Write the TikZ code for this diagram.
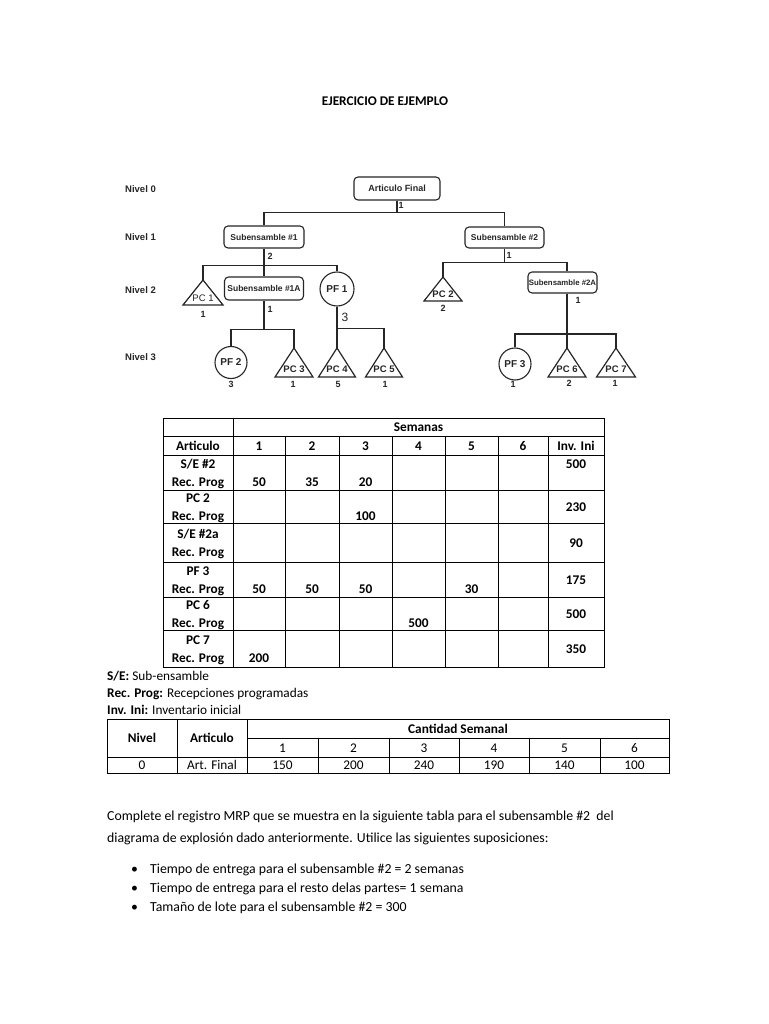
\documentclass[tikz,border=0pt]{standalone}
\usepackage{fontspec}
\setmainfont{Carlito}
\newfontfamily\treefont{Liberation Sans}
\usetikzlibrary{calc}
\newcommand\trishape[5]{% name, apex x, apex y, half width, height
  \coordinate (#1) at (#2,#3);
  \draw[treeline] (#1) -- ++(#4,#5) -- ++(-2*#4,0) -- cycle;
}
\begin{document}
\begin{tikzpicture}[x=1pt,y=-1pt,
  treeline/.style={draw=black!85, line width=1.2pt},
  rbox/.style={draw=black!85, line width=1.1pt, rounded corners=4pt, inner sep=0pt, text=black!85, font=\treefont\bfseries\fontsize{8.5}{9}\selectfont},
  pfc/.style={circle, draw=black!85, line width=1.1pt, minimum size=32pt, inner sep=0pt, text=black!85, font=\treefont\bfseries\fontsize{10}{10}\selectfont},
  tritxt/.style={inner sep=0pt, text=black!85, font=\treefont\bfseries\fontsize{9.5}{10}\selectfont},
  qty/.style={inner sep=0pt, text=black!85, font=\treefont\bfseries\fontsize{9}{9}\selectfont},
  lvl/.style={inner sep=0pt, anchor=west, text=black!85, font=\treefont\bfseries\fontsize{9.5}{10}\selectfont},
  grid/.style={draw=black, line width=0.9pt},
  cellb/.style={inner sep=0pt, anchor=base, font=\bfseries\fontsize{13.3}{16}\selectfont},
  cell/.style={inner sep=0pt, anchor=base, font=\fontsize{13.3}{16}\selectfont},
  txt/.style={inner sep=0pt, anchor=base west, font=\fontsize{13.3}{16}\selectfont},
  para/.style={inner sep=0pt, anchor=base west, font=\fontsize{13.8}{16}\selectfont},
]
\fill[white] (0,0) rectangle (768,1024);
\useasboundingbox (0,0) rectangle (768,1024);

% ---------- title ----------
\node[cellb] (title) at (385,105.5) {EJERCICIO DE EJEMPLO};

% ---------- levels ----------
\node[lvl] (n0) at (125,189) {Nivel 0};
\node[lvl] (n1) at (125,237) {Nivel 1};
\node[lvl] (n2) at (125,290) {Nivel 2};
\node[lvl] (n3) at (125,357) {Nivel 3};

% ---------- tree nodes ----------
\node[rbox, minimum width=86pt, minimum height=23pt, font=\treefont\bfseries\fontsize{9}{9}\selectfont] (af) at (397,188.5) {Articulo Final};
\node[rbox, minimum width=80pt, minimum height=22pt] (s1) at (264,237) {Subensamble \#1};
\node[rbox, minimum width=79pt, minimum height=21pt] (s2) at (504.5,237.5) {Subensamble \#2};
\node[rbox, minimum width=79pt, minimum height=23pt] (s1a) at (264,288.5) {Subensamble \#1A};
\node[rbox, minimum width=69pt, minimum height=21pt, font=\treefont\bfseries\fontsize{7.8}{8}\selectfont] (s2a) at (562.5,282.5) {Subensamble \#2A};

\node[pfc, minimum size=34pt] (pf1) at (337,289) {PF 1};
\node[pfc] (pf2) at (231,362.5) {PF 2};
\node[pfc] (pf3) at (515,364) {PF 3};

\trishape{pc1}{203}{280}{20}{25}
\node[tritxt, font=\treefont\fontsize{9.5}{10}\selectfont] (pc1t) at (203,298) {PC 1};
\trishape{pc2}{443}{277}{19}{24}
\node[tritxt] (pc2t) at (443,294) {PC 2};
\trishape{pc3}{294}{348}{19}{29}
\node[tritxt] (pc3t) at (294,369) {PC 3};
\trishape{pc4}{337}{348}{18.5}{29}
\node[tritxt] (pc4t) at (337,369) {PC 4};
\trishape{pc5}{384}{348}{18.5}{29}
\node[tritxt] (pc5t) at (384,369) {PC 5};
\trishape{pc6}{567}{348}{19}{29}
\node[tritxt] (pc6t) at (567,369) {PC 6};
\trishape{pc7}{616}{348}{19.5}{29}
\node[tritxt] (pc7t) at (616,369) {PC 7};

% ---------- connectors ----------
\coordinate (j0) at ($(af.south)+(0,12)$);
\draw[treeline] (af.south) -- (j0);
\draw[treeline] (s1.north) |- (j0) -| (s2.north);

\coordinate (j1) at ($(s1.south)+(0,17)$);
\draw[treeline] (s1.south) -- (j1) -- (s1a.north);
\draw[treeline] (pc1) |- (j1) -| (pf1.north);

\coordinate (s2aT) at ($(s2a.north)+(4.5,0)$);
\coordinate (s2aB) at ($(s2a.south)+(4.5,0)$);
\coordinate (j2) at ($(s2.south)+(0,14)$);
\draw[treeline] (s2.south) -- (j2);
\draw[treeline] (pc2) |- (j2) -| (s2aT);

\coordinate (j3) at ($(s1a.south)+(0,29)$);
\draw[treeline] (s1a.south) -- (j3);
\draw[treeline] (pf2.north) |- (j3) -| (pc3);

\coordinate (j4) at ($(pf1.south)+(0,22)$);
\draw[treeline] (pf1.south) -- (pc4);
\draw[treeline] (j4) -| (pc5);

\coordinate (j5) at ($(s2aB)+(0,40.5)$);
\draw[treeline] (s2aB) -- (pc6);
\draw[treeline] (pf3.north) |- (j5) -| (pc7);

% ---------- quantities ----------
\node[qty] (q0) at (401,205) {1};
\node[qty] (q1) at (270,256) {2};
\node[qty] (q2) at (509,255) {1};
\node[qty] (q3) at (203,314) {1};
\node[qty] (q4) at (270,309) {1};
\node[qty, font=\treefont\fontsize{12}{12}\selectfont] (q5) at (345,317) {3};
\node[qty] (q6) at (443,308) {2};
\node[qty] (q7) at (578,300) {1};
\node[qty] (q8) at (231,384) {3};
\node[qty] (q9) at (293,384) {1};
\node[qty] (q10) at (338,384) {5};
\node[qty] (q11) at (385,384) {1};
\node[qty] (q12) at (513,384) {1};
\node[qty] (q13) at (569,383) {2};
\node[qty] (q14) at (615,383) {1};

% ---------- table 1 ----------
\draw[grid] (163,418) rectangle (604,667);
\foreach \yy in {436,455,490,523,562,597,630} \draw[grid] (163,\yy) -- (604,\yy);
\draw[grid] (233,418) -- (233,667);
\foreach \xx in {285,339,392,445,498,548} \draw[grid] (\xx,436) -- (\xx,667);

\node[cellb] (sem) at (418.5,431.5) {Semanas};
\node[cellb] (art) at (198,450) {Articulo};
\foreach \xx/\t [count=\i] in {259/1,312/2,365.5/3,418.5/4,471.5/5,523/6,576/{Inv. Ini}}
  \node[cellb] (h\i) at (\xx,450) {\t};

% rows: name, mid
\foreach \nm/\ym [count=\i] in {{S/E \#2}/472.5, {PC 2}/506.5, {S/E \#2a}/542.5, {PF 3}/579.5, {PC 6}/613.5, {PC 7}/648.5}{
  \node[cellb] (r\i a) at (198,\ym-4.5) {\nm};
  \node[cellb] (r\i b) at (198,\ym+13.5) {Rec. Prog};
}
% values
\node[cellb] (v1) at (576,468) {500};
\node[cellb] (v2) at (259,486) {50};
\node[cellb] (v3) at (312,486) {35};
\node[cellb] (v4) at (365.5,486) {20};
\node[cellb] (v5) at (576,511) {230};
\node[cellb] (v6) at (365.5,520) {100};
\node[cellb] (v7) at (576,547) {90};
\node[cellb] (v8) at (576,584) {175};
\node[cellb] (v9) at (259,593) {50};
\node[cellb] (v10) at (312,593) {50};
\node[cellb] (v11) at (365.5,593) {50};
\node[cellb] (v12) at (471.5,593) {30};
\node[cellb] (v13) at (576,618) {500};
\node[cellb] (v14) at (418.5,627) {500};
\node[cellb] (v15) at (576,653) {350};
\node[cellb] (v16) at (259,662) {200};

% ---------- legend ----------
\node[txt] (l1) at (107,680.5) {\textbf{S/E:} Sub-ensamble};
\node[txt] (l2) at (107,697.5) {\textbf{Rec. Prog:} Recepciones programadas};
\node[txt] (l3) at (107,714.5) {\textbf{Inv. Ini:} Inventario inicial};

% ---------- table 2 ----------
\draw[grid] (107,719) rectangle (669,773);
\draw[grid] (247,738) -- (669,738);
\draw[grid] (107,757) -- (669,757);
\foreach \xx in {177,247} \draw[grid] (\xx,719) -- (\xx,773);
\foreach \xx in {318,389,459,529,600} \draw[grid] (\xx,738) -- (\xx,773);

\node[cellb] (t2a) at (142,742.5) {Nivel};
\node[cellb] (t2b) at (212,742.5) {Articulo};
\node[cellb] (t2c) at (458,733) {Cantidad Semanal};
\foreach \xx/\t [count=\i] in {282.5/1,353.5/2,424/3,494/4,564.5/5,634.5/6}
  \node[cell] (w\i) at (\xx,752) {\t};
\node[cell] (z0) at (142,769.5) {0};
\node[cell] (z1) at (212,769.5) {Art. Final};
\foreach \xx/\t [count=\i] in {282.5/150,353.5/200,424/240,494/190,564.5/140,634.5/100}
  \node[cell] (z\i x) at (\xx,769.5) {\t};

% ---------- paragraph ----------
\node[para] (p1) at (107,820) {Complete el registro MRP que se muestra en la siguiente tabla para el subensamble \#2\ \ del};
\node[para] (p2) at (107,842) {diagrama de explosión dado anteriormente. Utilice las siguientes suposiciones:};
\node[para] (b1) at (131,873) {•};
\node[para] (b2) at (131,892) {•};
\node[para] (b3) at (131,911) {•};
\node[para] (t1) at (150,873) {Tiempo de entrega para el subensamble \#2 = 2 semanas};
\node[para] (t2) at (150,892) {Tiempo de entrega para el resto delas partes= 1 semana};
\node[para] (t3) at (150,911) {Tamaño de lote para el subensamble \#2 = 300};
\end{tikzpicture}
\end{document}
